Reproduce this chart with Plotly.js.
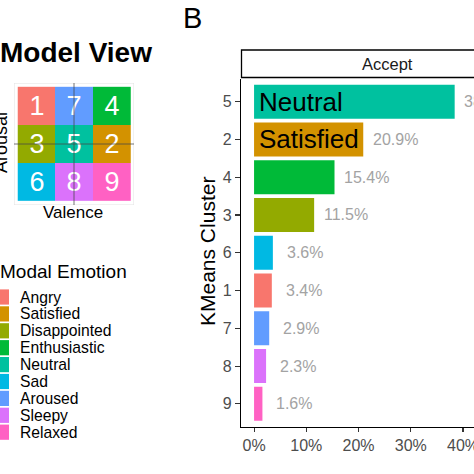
<!DOCTYPE html>
<html>
<head>
<meta charset="utf-8">
<script src="https://cdn.plot.ly/plotly-3.0.1.min.js"></script>
<style>
  html, body { margin: 0; padding: 0; background: #fff; }
  #chart { width: 474px; height: 474px; }
</style>
</head>
<body>
<div id="chart"></div>
<script>
// cluster -> modal emotion, share of "Accept" responses
const clusters = [1, 2, 3, 4, 5, 6, 7, 8, 9];
const emotions = ['Angry', 'Satisfied', 'Disappointed', 'Enthusiastic', 'Neutral', 'Sad', 'Aroused', 'Sleepy', 'Relaxed'];
const colors = ['#F8766D', '#D39200', '#93AA00', '#00BA38', '#00C19F', '#00B9E3', '#619CFF', '#DB72FB', '#FF61C3'];
const acceptShare = [3.4, 20.9, 11.5, 15.4, 38.4, 3.6, 2.9, 2.3, 1.6];
const clusterOrder = ['5', '2', '4', '3', '6', '1', '7', '8', '9'];
const namedClusters = [5, 2];
// model view grid, top row first (arousal high -> low), valence low -> high
const gridRows = [[1, 7, 4], [3, 5, 2], [6, 8, 9]];
const xTicks = [0, 10, 20, 30, 40];

const W = 474, H = 474;
const px = x => x / W;
const py = y => 1 - y / H;
const FONT = 'Liberation Sans, Arial, Helvetica, sans-serif';

let traces = [];
clusters.forEach((c, i) => {
    traces.push({
        type: 'bar',
        orientation: 'h',
        x: [acceptShare[i]],
        y: [String(c)],
        width: 0.9,
        marker: {color: colors[i], line: {width: 0}},
        name: emotions[i],
        showlegend: false,
        hoverinfo: 'x+y',
        xaxis: 'x', yaxis: 'y'
    });
});

// discrete colour scale for the grid, one band per cluster
let scale = [];
colors.forEach((col, i) => {
    scale.push([i / 9, col]);
    scale.push([(i + 1) / 9, col]);
});
traces.push({
    type: 'heatmap',
    z: gridRows,
    x: [0, 1, 2],
    y: [0, 1, 2],
    zmin: 0.5, zmax: 9.5,
    colorscale: scale,
    showscale: false,
    texttemplate: '%{z}',
    textfont: {color: '#ffffff', size: 27, family: FONT},
    hoverinfo: 'z',
    xaxis: 'x2', yaxis: 'y2'
});

let annotations = [];
let shapes = [];

// percent labels right of bars (category axis -> use row index)
clusters.forEach((c, i) => {
    const row = clusterOrder.indexOf(String(c));
    annotations.push({
        x: acceptShare[i], y: row, xref: 'x', yref: 'y',
        text: acceptShare[i].toFixed(1) + '%',
        xanchor: 'center', yanchor: 'middle', xshift: 32,
        showarrow: false,
        font: {size: 16, color: '#A3A3A3', family: FONT}
    });
    if (namedClusters.includes(c)) {
        annotations.push({
            x: 0, y: row, xref: 'x', yref: 'y',
            text: emotions[i],
            xanchor: 'left', yanchor: 'middle', xshift: 3,
            showarrow: false,
            font: {size: 26, color: '#000000', family: FONT}
        });
    }
});

// facet strip
shapes.push({
    type: 'rect', xref: 'paper', yref: 'paper',
    x0: px(241.5), x1: px(540), y0: py(77.5), y1: py(50),
    line: {color: '#000', width: 1.3}, fillcolor: '#fff'
});
annotations.push({
    x: px(387), y: py(64), xref: 'paper', yref: 'paper',
    text: 'Accept', showarrow: false, xanchor: 'center', yanchor: 'middle',
    font: {size: 16.5, color: '#1a1a1a', family: FONT}
});

// axis title and panel letter
annotations.push({
    x: px(208), y: py(252), xref: 'paper', yref: 'paper',
    text: 'KMeans Cluster', textangle: -90, showarrow: false,
    xanchor: 'center', yanchor: 'middle',
    font: {size: 21, color: '#000', family: FONT}
});
annotations.push({
    x: px(181), y: py(18), xref: 'paper', yref: 'paper',
    text: 'B', showarrow: false, xanchor: 'left', yanchor: 'middle',
    font: {size: 29, color: '#000', family: FONT}
});

// model view panel
annotations.push({
    x: px(-2), y: py(53), xref: 'paper', yref: 'paper',
    text: '<b>Model View</b>', showarrow: false, xanchor: 'left', yanchor: 'middle',
    font: {size: 28, color: '#000', family: FONT}
});
annotations.push({
    x: px(73), y: py(213), xref: 'paper', yref: 'paper',
    text: 'Valence', showarrow: false, xanchor: 'center', yanchor: 'middle',
    font: {size: 17, color: '#000', family: FONT}
});
annotations.push({
    x: px(1), y: py(143), xref: 'paper', yref: 'paper',
    text: 'Arousal', textangle: -90, showarrow: false, xanchor: 'center', yanchor: 'middle',
    font: {size: 18, color: '#000', family: FONT}
});
shapes.push({
    type: 'rect', xref: 'x2', yref: 'y2', x0: -0.6, x1: 2.6, y0: -0.6, y1: 2.6,
    line: {color: '#E2E2E2', width: 1}, layer: 'below'
});
shapes.push({
    type: 'line', xref: 'x2', yref: 'y2', x0: 1, x1: 1, y0: -0.6, y1: 2.6,
    line: {color: 'rgba(70,70,70,0.75)', width: 1}, layer: 'above'
});
shapes.push({
    type: 'line', xref: 'x2', yref: 'y2', x0: -0.6, x1: 2.6, y0: 1, y1: 1,
    line: {color: 'rgba(70,70,70,0.75)', width: 1}, layer: 'above'
});

// legend drawn by hand
annotations.push({
    x: px(-2), y: py(271), xref: 'paper', yref: 'paper',
    text: 'Modal Emotion', showarrow: false, xanchor: 'left', yanchor: 'middle',
    font: {size: 19, color: '#000', family: FONT}
});
emotions.forEach((e, i) => {
    const cy = 297 + i * 16.9;
    shapes.push({
        type: 'rect', xref: 'paper', yref: 'paper',
        x0: px(-8), x1: px(9), y0: py(cy + 7.6), y1: py(cy - 7.6),
        fillcolor: colors[i], line: {width: 0}
    });
    annotations.push({
        x: px(18), y: py(cy), xref: 'paper', yref: 'paper',
        text: e, showarrow: false, xanchor: 'left', yanchor: 'middle',
        font: {size: 15.7, color: '#000', family: FONT}
    });
});

const layout = {
    width: W, height: H,
    margin: {l: 0, r: 0, t: 0, b: 0},
    paper_bgcolor: '#fff', plot_bgcolor: 'rgba(0,0,0,0)',
    font: {family: FONT},
    showlegend: false,
    barmode: 'overlay',
    xaxis: {
        domain: [px(241), 1],
        range: [-2.5, 42.1],
        tickvals: xTicks,
        ticktext: xTicks.map(v => v + '%'),
        ticklabeloverflow: 'allow',
        showline: true, linecolor: '#000', linewidth: 1.2,
        ticks: 'outside', ticklen: 4, tickwidth: 1.1, tickcolor: '#333',
        tickfont: {size: 16, color: '#4D4D4D', family: FONT},
        showgrid: false, zeroline: false,
        anchor: 'y'
    },
    yaxis: {
        domain: [py(426.5), py(79)],
        type: 'category',
        categoryorder: 'array',
        categoryarray: clusterOrder,
        range: [8.6, -0.6],
        showline: true, linecolor: '#000', linewidth: 1.2,
        ticks: 'outside', ticklen: 5, tickwidth: 1.1, tickcolor: '#333',
        tickfont: {size: 16, color: '#4D4D4D', family: FONT},
        showgrid: false, zeroline: false,
        anchor: 'x'
    },
    xaxis2: {
        domain: [px(14), px(134)],
        range: [-0.6, 2.6],
        showticklabels: false, ticks: '', showgrid: false, zeroline: false, showline: false,
        anchor: 'y2'
    },
    yaxis2: {
        domain: [py(205), py(83)],
        range: [2.6, -0.6],
        showticklabels: false, ticks: '', showgrid: false, zeroline: false, showline: false,
        anchor: 'x2'
    },
    annotations: annotations,
    shapes: shapes
};

Plotly.newPlot('chart', traces, layout, {displayModeBar: false, staticPlot: true});
</script>
</body>
</html>
